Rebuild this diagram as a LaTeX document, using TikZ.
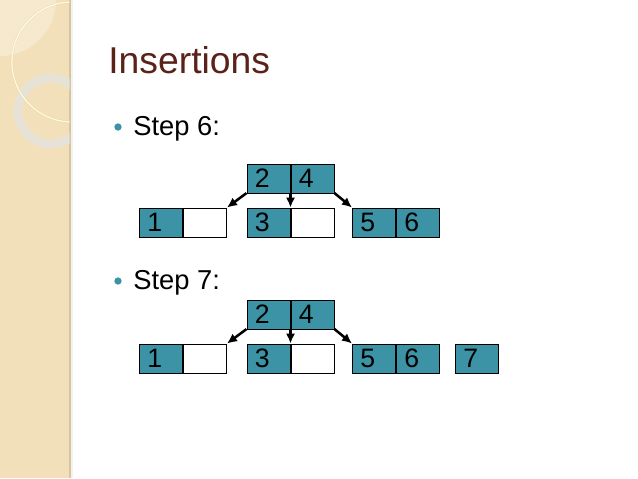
\documentclass[tikz,border=0pt]{standalone}
\usepackage{fontspec}
\setmainfont{Liberation Sans}
\usepackage{tikz}
\usetikzlibrary{patterns,positioning,arrows.meta}
\usepackage{xcolor}
\definecolor{bteal}{HTML}{3C93A5}
\definecolor{stripe}{HTML}{F2DFB8}
\definecolor{stripeedge}{HTML}{D6C59E}
\definecolor{titlebrown}{HTML}{5B2219}
\definecolor{ringgrey}{HTML}{E6E3DA}

\tikzset{
  key/.style = {draw=black, fill=bteal, minimum width=32.6pt, minimum height=21.8pt,
    inner sep=0pt, text width=20.6pt, align=left, anchor=north west,
    font=\fontsize{20}{20}\selectfont},
  nokey/.style = {key, fill=white},
  ptr/.style = {line width=1.9pt, -{Latex[length=7.5pt,width=7pt]}},
  bul/.style = {circle, fill=bteal, inner sep=0pt, minimum size=5.5pt},
  steplabel/.style = {anchor=base west, inner sep=0pt, font=\fontsize{20.5}{20.5}\selectfont},
}

\begin{document}
\begin{tikzpicture}[x=0.75pt, y=-0.75pt]
\useasboundingbox (0,0) rectangle (638,478);
\fill[white] (0,0) rectangle (638,478);
% side stripe
\fill[stripe] (0,0) rectangle (70,478);
\fill[pattern=crosshatch dots, pattern color=white!30!stripe] (0,0) rectangle (70,478);
\fill[black, opacity=0.05] (70,0) rectangle (73,478);
\draw[stripeedge, line width=1.2pt] (70,0) -- (70,478);
\begin{scope}
\clip (0,0) rectangle (69.5,478);
\fill[white, opacity=0.3] (0,0) circle[radius=42pt];
\fill[ringgrey, opacity=0.9, even odd rule] (51,111) circle[radius=28pt] (51,111) circle[radius=21.5pt];
\draw[brown!40, line width=1.6pt, opacity=0.5] (72,62) circle[radius=45pt];
\draw[white!85!yellow, line width=0.9pt] (72,62) circle[radius=45pt];
\end{scope}

% title
\node[anchor=base west, inner sep=0pt, text=titlebrown, font=\fontsize{28}{28}\selectfont] (title) at (108,74) {Insertions};

% step 6
\node[bul] (s6b) at (118,127) {};
\node[steplabel] (s6) at (133,135) {Step 6:};
\node[key] (a1) at (246.5,163.5) {2};
\node[key, right=0pt of a1] (a2) {4};
\node[key] (b1) at (139,207.5) {1};
\node[nokey, right=0pt of b1] (b2) {};
\node[key] (c1) at (246.5,207.5) {3};
\node[nokey, right=0pt of c1] (c2) {};
\node[key] (d1) at (352,207.5) {5};
\node[key, right=0pt of d1] (d2) {6};
\draw[ptr] (a1.south west) -- (b2.north east);
\draw[ptr] (a1.south east) -- (c1.north east);
\draw[ptr] (a2.south east) -- (d1.north west);

% step 7
\node[bul] (s7b) at (118,281) {};
\node[steplabel] (s7) at (133,289) {Step 7:};
\node[key] (e1) at (246.5,299.5) {2};
\node[key, right=0pt of e1] (e2) {4};
\node[key] (f1) at (139,343.5) {1};
\node[nokey, right=0pt of f1] (f2) {};
\node[key] (g1) at (246.5,343.5) {3};
\node[nokey, right=0pt of g1] (g2) {};
\node[key] (h1) at (352,343.5) {5};
\node[key, right=0pt of h1] (h2) {6};
\node[key] (k1) at (455,343.5) {7};
\draw[ptr] (e1.south west) -- (f2.north east);
\draw[ptr] (e1.south east) -- (g1.north east);
\draw[ptr] (e2.south east) -- (h1.north west);
\end{tikzpicture}
\end{document}
